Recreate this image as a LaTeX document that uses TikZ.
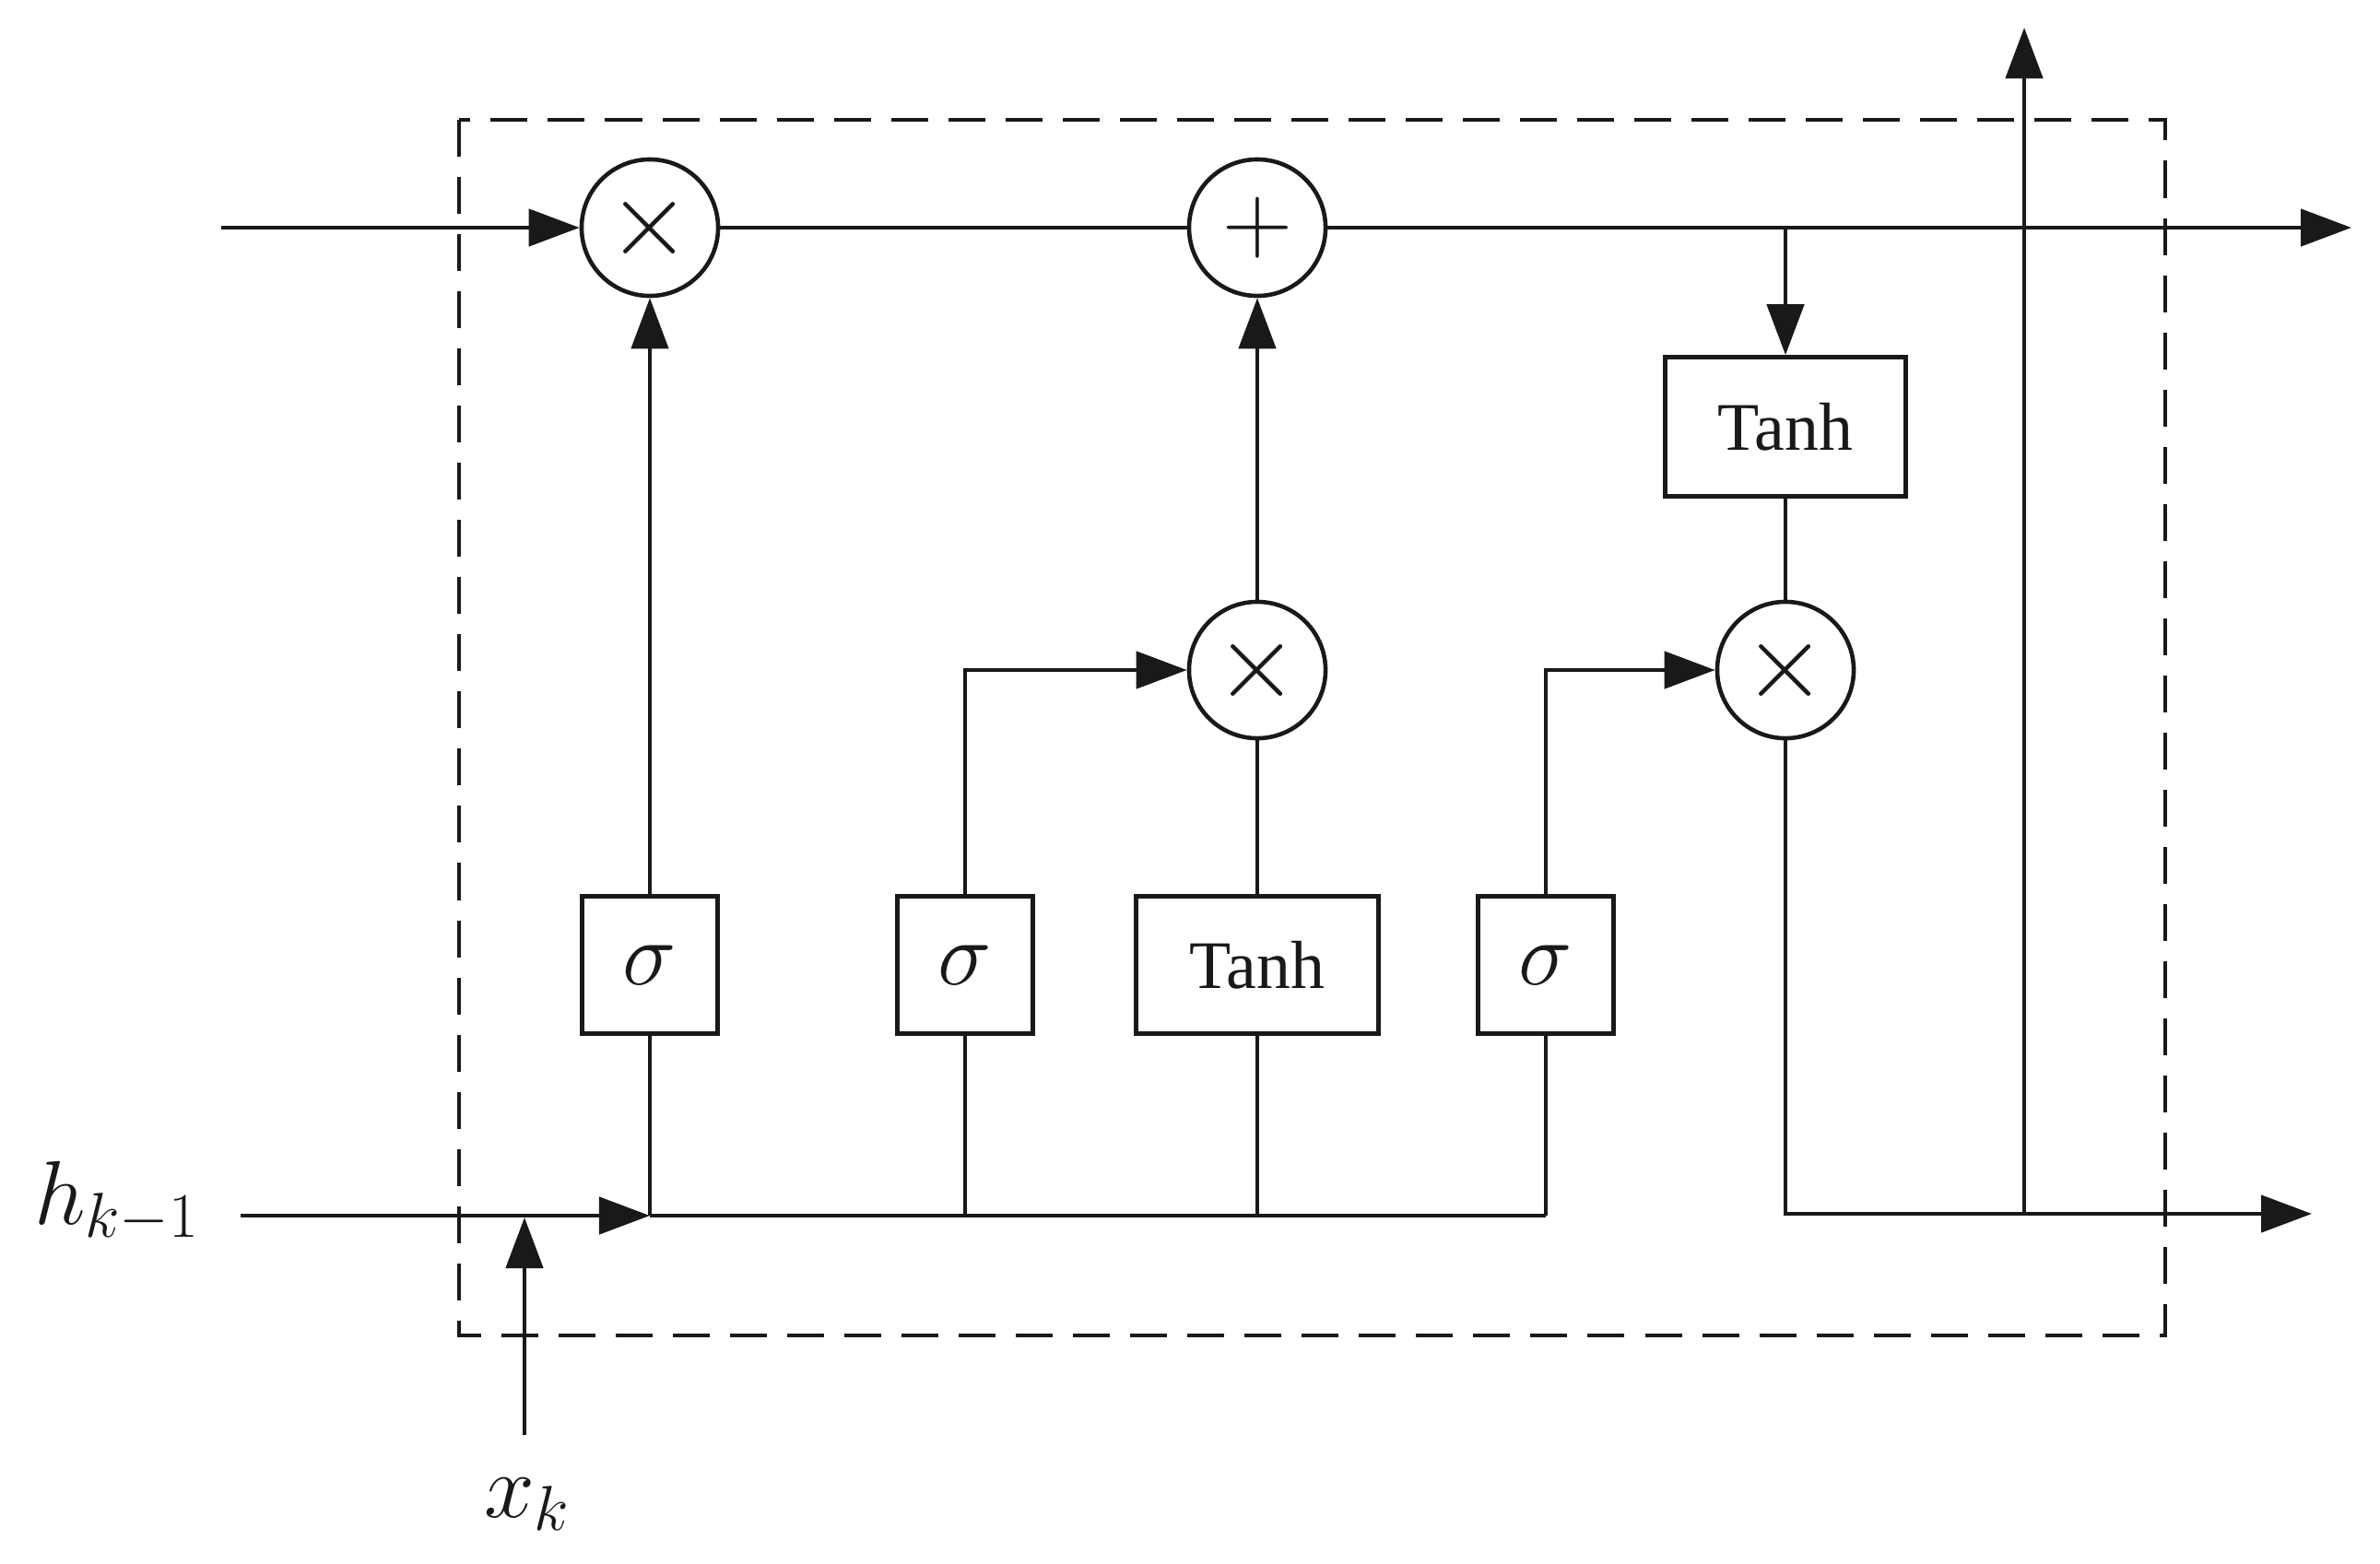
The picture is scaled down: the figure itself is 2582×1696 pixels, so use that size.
\RequirePackage{fix-cm}
\documentclass[tikz,border=0pt]{standalone}
\usepackage{fontspec}
\newfontfamily\timesf{Liberation Serif}
\usetikzlibrary{arrows.meta}
\begin{document}
\begin{tikzpicture}[x=0.01cm,y=-0.01cm,
  line width=1.3pt, color=black!90,
  op/.style={circle,draw,minimum size=1.48cm,inner sep=0pt},
  gate/.style={draw,minimum width=1.47cm,minimum height=1.49cm,inner sep=0pt,font=\fontsize{28}{28}\selectfont},
  tanhbox/.style={draw,minimum width=2.63cm,minimum height=1.49cm,inner sep=0pt,font=\timesf\fontsize{21}{21}\selectfont},
  arr/.style={-{Triangle[length=0.55cm,width=0.4cm]}},
  lbl/.style={font=\fontsize{28}{28}\selectfont},
  dashbox/.style={line width=1.2pt,dash pattern=on 0.4cm off 0.22cm}]
\useasboundingbox (0,0) rectangle (2582,1696);

% dashed cell boundary
\draw[dashbox] (498,130) rectangle (2349,1449);

% operators
\node[op,font=\fontsize{33}{33}\selectfont] (m1) at (705,247) {$\times$};
\node[op,font=\fontsize{30}{30}\selectfont] (add) at (1364,247) {$+$};
\node[op,font=\fontsize{33}{33}\selectfont] (m2) at (1364,727) {$\times$};
\node[op,font=\fontsize{33}{33}\selectfont] (m3) at (1937,727) {$\times$};

% gates
\node[gate] (s1) at (705,1047) {$\sigma$};
\node[gate] (s2) at (1047,1047) {$\sigma$};
\node[tanhbox] (t1) at (1364,1047) {Tanh};
\node[gate] (s3) at (1677,1047) {$\sigma$};
\node[tanhbox,minimum width=2.61cm,minimum height=1.51cm] (t2) at (1937,463) {Tanh};

% labels
\node[lbl,anchor=base] (hl) at (127,1328) {$h_{k-1}$};
\node[lbl,anchor=base] (xl) at (572,1646) {$x_k$};

% coordinates
\coordinate (cin) at (240,247);
\coordinate (cout) at (2551,247);
\coordinate (cb) at (1937,247);
\coordinate (hin) at (261,1319);
\coordinate (hj) at (705,1319);
\coordinate (b3) at (1677,1319);
\coordinate (xin) at (569,1557);
\coordinate (xj) at (569,1321);
\coordinate (hout) at (2508,1317);
\coordinate (vj) at (2196,1317);
\coordinate (vout) at (2196,30);

% cell state line
\draw[arr] (cin) -- (m1);
\draw (m1) -- (add);
\draw[arr] (add) -- (cout);
\draw[arr] (cb) -- (t2);
\draw (t2) -- (m3);

% gates to operators
\draw[arr] (s1) -- (m1);
\draw[arr] (m2) -- (add);
\draw (t1) -- (m2);
\draw[arr] (s2.north) |- (m2.west);
\draw[arr] (s3.north) |- (m3.west);

% input bus
\draw[arr] (hin) -- (hj);
\draw (hj) -- (b3);
\draw (s1) -- (hj);
\draw (s2) -- (s2 |- hj);
\draw (t1) -- (t1 |- hj);
\draw (s3) -- (b3);
\draw[arr] (xin) -- (xj);

% output
\draw[arr] (m3.south) |- (hout);
\draw[arr] (vj) -- (vout);
\end{tikzpicture}
\end{document}
